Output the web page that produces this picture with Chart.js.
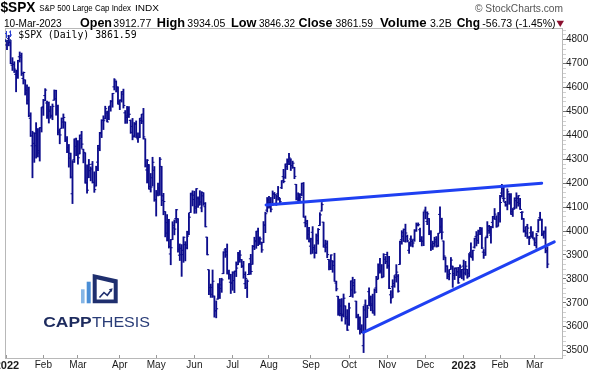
<!DOCTYPE html>
<html><head><meta charset="utf-8">
<script src="https://cdn.jsdelivr.net/npm/chart.js@4"></script>
<style>
html,body{margin:0;padding:0;background:#fff;overflow:hidden}
#wrap{position:relative;width:595px;height:376px}
#c{position:absolute;left:0;top:0}
#ov{position:absolute;left:0;top:0;pointer-events:none}
</style></head><body>
<div id="wrap">
<canvas id="c" width="595" height="376"></canvas>
<svg id="ov" width="595" height="376" xmlns="http://www.w3.org/2000/svg" font-family="Liberation Sans, Arial, sans-serif">
  <!-- header line 1 -->
  <text x="0.5" y="11.5" font-size="14" font-weight="bold" textLength="35" lengthAdjust="spacingAndGlyphs">$SPX</text>
  <text x="39.3" y="11.3" font-size="9.5" textLength="91.7" lengthAdjust="spacingAndGlyphs">S&amp;P 500 Large Cap Index</text>
  <text x="135" y="11.3" font-size="9" textLength="24" lengthAdjust="spacingAndGlyphs">INDX</text>
  <text x="475" y="11.5" font-size="10" fill="#555" textLength="88" lengthAdjust="spacingAndGlyphs">© StockCharts.com</text>
  <!-- header line 2 -->
  <text x="4" y="26.6" font-size="10" textLength="57.7" lengthAdjust="spacingAndGlyphs">10-Mar-2023</text>
  <text x="80" y="26.6" font-size="12" font-weight="bold" textLength="32" lengthAdjust="spacingAndGlyphs">Open</text>
  <text x="113.3" y="26.6" font-size="10" textLength="38" lengthAdjust="spacingAndGlyphs">3912.77</text>
  <text x="156.7" y="26.6" font-size="12" font-weight="bold" textLength="28.3" lengthAdjust="spacingAndGlyphs">High</text>
  <text x="187.3" y="26.6" font-size="10" textLength="38" lengthAdjust="spacingAndGlyphs">3934.05</text>
  <text x="231" y="26.6" font-size="12" font-weight="bold" textLength="25.5" lengthAdjust="spacingAndGlyphs">Low</text>
  <text x="259" y="26.6" font-size="10" textLength="36" lengthAdjust="spacingAndGlyphs">3846.32</text>
  <text x="298.5" y="26.6" font-size="12" font-weight="bold" textLength="34" lengthAdjust="spacingAndGlyphs">Close</text>
  <text x="335.5" y="26.6" font-size="10" textLength="37.5" lengthAdjust="spacingAndGlyphs">3861.59</text>
  <text x="380" y="26.6" font-size="12" font-weight="bold" textLength="46.7" lengthAdjust="spacingAndGlyphs">Volume</text>
  <text x="430" y="26.6" font-size="10" textLength="21.7" lengthAdjust="spacingAndGlyphs">3.2B</text>
  <text x="456.7" y="26.6" font-size="12" font-weight="bold" textLength="23.3" lengthAdjust="spacingAndGlyphs">Chg</text>
  <text x="482.3" y="26.6" font-size="10" textLength="73.3" lengthAdjust="spacingAndGlyphs">-56.73 (-1.45%)</text>
  <text x="556.5" y="25.5" font-size="8" fill="#8b1030" font-family="DejaVu Sans, sans-serif" textLength="7.5" lengthAdjust="spacingAndGlyphs">▼</text>
  <!-- legend -->
  <g stroke="#2a3fd0" stroke-width="1" fill="none">
    <path d="M6.5 31 V38 M5 33.5 H6.5 M6.5 36 H8 M10.5 30.5 V37 M9 32 H10.5 M10.5 35 H12"/>
    <path d="M5.5 42 V39.5 L8 41.5 L10.5 39.5 V42" stroke="#1a2a90"/>
  </g>
  <text x="18.3" y="37.6" font-size="10" font-family="DejaVu Sans Mono, monospace" textLength="118.3" lengthAdjust="spacingAndGlyphs">$SPX (Daily) 3861.59</text>
  <!-- logo -->
  <rect x="81" y="289.3" width="3.6" height="14" fill="#86b6e6"/>
  <rect x="86.7" y="281.7" width="4" height="21.6" fill="#4a8ed6"/>
  <polygon points="92.7,274 117.7,279.5 117.7,303.3 92.7,303.3" fill="#1f2f6e"/>
  <polygon points="96.7,279.3 113.7,283.2 113.7,299.5 96.7,299.5" fill="#fff"/>
  <polyline points="99.5,297.5 104,292.5 107.3,295.3 111.2,290" fill="none" stroke="#1f2f6e" stroke-width="1.6"/>
  <polygon points="112.6,288.2 108.8,289.2 111.8,292" fill="#1f2f6e"/>
  <text x="43.3" y="327" font-size="14.5" font-weight="bold" fill="#1d2b5e" textLength="48.4" lengthAdjust="spacingAndGlyphs">CAPP</text>
  <text x="92" y="327" font-size="14.5" fill="#2a3d78" textLength="58" lengthAdjust="spacingAndGlyphs">THESIS</text>
</svg>
</div>
<script>
// Month tick labels and their first-trading-day index
const monthLabels = ["2022","Feb","Mar","Apr","May","Jun","Jul","Aug","Sep","Oct","Nov","Dec","2023","Feb","Mar"];
const monthIdx    = [0,20,39,62,82,103,124,144,167,188,209,230,251,271,290];
const yearIdx     = [0,251];
const priceTicks  = [3500,3600,3700,3800,3900,4000,4100,4200,4300,4400,4500,4600,4700,4800];

// Daily OHLC ($SPX), Jan 3 2022 .. Mar 10 2023
const opens = [
4778.1,4804.5,4788.0,4693.4,4697.7,4655.3,4669.1,4728.6,4733.6,4638.0,4632.2,4588.0,4547.4,4471.4,4356.3,4366.6,4408.4,4380.6,4336.2,4431.8,
4519.6,4566.4,4535.4,4482.8,4505.8,4480.0,4547.0,4553.2,4506.3,4412.6,4429.3,4455.8,4456.1,4384.6,4332.7,4324.9,4155.8,4298.4,4354.2,
4363.1,4322.6,4401.3,4342.1,4327.0,4202.7,4223.1,4252.6,4279.5,4202.8,4188.8,4288.1,4345.1,4407.3,4462.4,4469.1,4493.1,4470.0,4522.7,4541.1,4602.9,4624.2,4599.0,
4540.3,4548.0,4572.5,4494.2,4474.7,4494.2,4462.6,4437.6,4394.3,4449.1,4385.6,4390.6,4472.3,4489.2,4385.8,4255.3,4278.1,4186.5,4222.6,4253.8,
4130.6,4159.8,4181.2,4270.4,4128.2,4081.3,4035.2,3990.1,3904.0,3963.9,4013.0,4052.0,4052.0,3899.0,3927.8,3919.4,3942.9,3929.6,3984.6,4077.4,4151.1,
4149.8,4095.4,4137.6,4134.7,4096.5,4147.1,4101.7,3974.4,3838.2,3763.5,3764.1,3728.2,3665.9,3715.3,3733.9,3774.7,3821.8,3920.8,3913.0,3825.1,3786.0,
3781.0,3792.6,3832.0,3858.9,3888.3,3880.9,3852.0,3779.7,3764.0,3818.0,3883.8,3860.7,3935.3,3955.5,3998.4,3965.7,3953.2,3951.4,4026.1,4087.3,
4112.4,4104.2,4108.0,4154.9,4115.9,4155.9,4133.1,4181.0,4227.4,4225.0,4269.4,4290.5,4280.4,4273.1,4266.3,4195.1,4133.1,4126.6,4153.3,4198.7,4034.6,4041.3,4000.7,
3936.7,3994.7,3930.9,3909.4,3959.9,4022.9,4083.7,4037.1,3940.7,3932.4,3881.0,3849.9,3875.2,3871.4,3782.4,3727.1,3682.7,3686.4,3651.9,3687.0,3633.5,
3609.8,3726.5,3753.3,3772.0,3706.7,3644.8,3595.9,3590.8,3520.4,3690.4,3638.7,3746.3,3703.1,3689.1,3657.1,3762.0,3799.4,3826.0,3834.7,3808.3,3881.9,
3901.8,3852.9,3733.3,3767.0,3780.7,3817.0,3810.9,3859.9,3963.7,3978.0,4006.4,3976.8,3919.3,3966.4,3956.2,3965.5,4000.3,4023.3,4005.4,3964.2,3957.2,
4087.1,4040.2,4052.0,3996.6,3933.3,3947.8,3954.2,3939.3,4069.4,4015.5,3958.4,3890.9,3853.8,3810.5,3839.5,3853.3,3815.1,3843.3,3829.6,3805.5,3829.1,
3853.3,3840.4,3839.7,3823.4,3910.8,3888.6,3932.4,3977.6,3960.6,3999.3,4002.3,3911.8,3909.0,3978.1,4001.7,3982.7,4036.1,4053.7,4049.3,4020.9,
4070.1,4158.7,4136.7,4119.6,4105.4,4153.5,4144.3,4068.9,4096.6,4126.7,4119.5,4114.8,4077.4,4052.4,4001.8,4018.6,3973.2,3992.4,3977.2,
3963.3,3938.7,3998.0,4055.2,4048.3,3987.6,3998.7,3912.77];
const highs = [
4796.6,4818.6,4797.7,4725.0,4708.0,4673.0,4714.1,4748.8,4744.1,4665.1,4632.2,4611.6,4602.1,4494.5,4417.4,4411.0,4453.2,4428.7,4432.7,4516.9,
4550.5,4595.3,4542.9,4539.7,4521.9,4531.3,4590.0,4588.9,4526.3,4426.2,4472.8,4489.6,4456.1,4394.6,4362.1,4325.8,4294.7,4385.3,4388.8,
4378.5,4401.5,4416.8,4342.1,4327.0,4276.9,4299.4,4268.3,4291.0,4247.6,4271.1,4358.0,4412.7,4465.4,4481.8,4522.0,4501.1,4520.6,4546.0,4575.7,4637.3,4627.8,4603.1,
4548.7,4583.5,4593.5,4503.9,4521.2,4520.4,4464.4,4471.0,4453.9,4460.5,4410.3,4471.0,4488.3,4512.9,4385.8,4299.0,4278.1,4240.7,4308.5,4269.7,
4169.8,4200.1,4307.7,4270.4,4157.7,4081.3,4068.8,4049.1,3964.8,4038.9,4046.5,4090.7,4052.0,3946.0,3943.4,3975.5,3955.7,3999.3,4075.1,4158.5,4168.3,
4166.5,4177.5,4142.7,4168.8,4164.9,4160.1,4119.1,3974.4,3838.2,3778.2,3837.1,3728.2,3707.7,3779.7,3801.8,3802.6,3913.7,3927.7,3945.9,3836.5,3819.0,
3829.8,3832.2,3870.9,3910.6,3918.5,3880.9,3873.4,3829.4,3796.4,3863.6,3902.4,3939.8,3974.1,3999.3,4012.4,3975.3,3953.2,4039.6,4079.0,4140.2,
4145.0,4140.5,4167.7,4161.3,4151.6,4186.6,4137.3,4211.0,4257.9,4280.5,4301.8,4325.3,4302.2,4292.5,4266.3,4195.1,4159.8,4156.6,4200.5,4203.0,4063.0,4045.0,4015.4,
3970.2,4018.4,3942.6,3987.9,4010.5,4076.8,4119.3,4037.1,3961.9,3959.1,3881.0,3900.5,3876.0,3907.1,3790.3,3727.1,3715.7,3717.5,3736.7,3687.0,3671.4,
3698.4,3791.9,3806.9,3797.9,3706.7,3652.2,3640.7,3608.3,3685.4,3712.0,3689.7,3762.8,3728.6,3736.0,3757.9,3810.7,3862.9,3886.2,3860.0,3905.4,3893.7,
3911.8,3894.4,3750.6,3796.3,3814.0,3859.4,3818.2,3958.3,4001.5,4009.0,4028.8,3983.1,3954.3,3979.9,3962.0,4005.9,4033.8,4034.0,4012.3,3976.8,4080.1,
4100.5,4080.5,4052.5,4001.5,3957.6,3974.2,3977.0,3990.7,4101.0,4053.8,3958.4,3890.9,3854.9,3838.2,3889.3,3853.3,3845.8,3846.7,3848.3,3858.2,3839.9,
3878.5,3873.2,3839.7,3906.2,3950.6,3919.8,3970.1,3997.8,4004.0,4015.4,4014.2,3922.9,3973.0,4039.3,4023.9,4019.6,4061.6,4094.2,4063.9,4077.2,
4149.0,4195.4,4182.4,4124.6,4176.5,4156.9,4156.2,4094.4,4138.9,4159.8,4148.1,4136.5,4081.5,4052.4,4017.4,4028.3,3978.3,4018.1,3997.5,
3971.7,3990.8,4048.3,4078.5,4050.0,4000.4,4017.8,3934.05];
const lows = [
4758.2,4774.3,4699.4,4671.3,4662.7,4582.2,4638.3,4706.7,4650.3,4614.8,4568.7,4530.2,4478.0,4395.3,4222.6,4287.1,4304.8,4309.5,4292.5,4414.0,
4483.5,4544.3,4470.4,4451.5,4471.5,4465.4,4547.0,4484.3,4401.4,4364.8,4429.3,4429.7,4373.8,4327.2,4267.1,4221.5,4114.7,4286.8,4315.1,
4279.5,4322.6,4345.6,4285.0,4199.9,4157.9,4223.1,4209.8,4200.5,4161.7,4187.9,4252.0,4335.7,4390.6,4424.3,4469.1,4455.8,4465.2,4501.1,4517.7,4589.7,4581.3,4530.4,
4507.6,4539.2,4514.2,4450.0,4450.3,4474.6,4408.4,4381.3,4392.7,4390.8,4370.3,4390.6,4448.8,4384.5,4267.6,4200.8,4175.0,4162.9,4188.6,4124.3,
4062.5,4147.1,4148.9,4106.0,4067.9,3975.5,3958.2,3928.8,3858.9,3963.9,3984.0,4033.9,3911.9,3876.6,3810.3,3868.9,3875.1,3925.0,3984.6,4077.4,4104.9,
4073.9,4074.4,4098.7,4109.2,4080.2,4107.2,4017.2,3900.2,3734.3,3722.3,3722.3,3639.8,3636.9,3715.3,3717.7,3743.5,3821.8,3889.7,3820.1,3799.0,3738.7,
3752.1,3742.1,3809.4,3858.9,3869.3,3847.2,3802.4,3758.9,3721.6,3817.2,3818.6,3860.7,3922.0,3927.6,3938.9,3943.5,3910.7,3951.4,3993.0,4079.2,
4096.0,4079.8,4108.0,4135.4,4107.3,4129.0,4112.1,4177.3,4201.4,4219.8,4256.9,4277.8,4253.1,4262.0,4218.7,4129.9,4124.0,4120.0,4147.6,4057.7,4017.4,3965.2,3954.5,
3903.7,3906.2,3886.8,3906.0,3944.8,4022.9,4083.7,3932.4,3912.3,3888.3,3837.1,3838.5,3827.5,3789.5,3749.5,3647.5,3644.8,3623.3,3640.6,3610.4,3584.1,
3604.9,3726.5,3722.7,3739.2,3636.7,3588.1,3568.5,3573.9,3491.6,3579.7,3638.7,3686.5,3666.5,3656.4,3647.4,3742.0,3799.4,3824.1,3803.8,3808.3,3863.2,
3843.8,3758.7,3698.2,3721.6,3764.7,3786.3,3744.2,3859.9,3944.8,3956.4,3953.2,3954.3,3906.5,3936.0,3933.3,3956.9,3998.7,4020.8,3955.8,3937.7,3938.6,
4050.9,4026.6,3984.5,3918.4,3922.7,3935.8,3933.0,3935.3,3993.0,3965.7,3879.5,3827.9,3800.0,3795.6,3839.5,3764.5,3797.0,3813.2,3780.8,3805.5,3800.3,
3794.3,3815.8,3802.4,3809.6,3890.4,3877.3,3928.5,3937.6,3947.7,3984.6,3926.6,3885.5,3897.9,3971.6,3989.8,3949.1,4013.3,4048.7,4015.6,4020.4,
4037.2,4141.9,4123.4,4104.0,4088.4,4111.7,4069.7,4060.8,4092.7,4095.0,4103.7,4089.9,4048.0,3995.2,3976.9,3969.2,3943.1,3973.6,3969.0,
3939.1,3928.2,3995.2,4044.6,3980.3,3969.8,3908.7,3846.32];
const closes = [
4796.6,4793.5,4700.6,4696.1,4677.0,4670.3,4713.1,4726.4,4659.0,4662.9,4577.1,4532.8,4482.7,4397.9,4410.1,4356.5,4349.9,4326.5,4431.9,4515.6,
4546.5,4589.4,4477.4,4500.5,4483.9,4521.5,4587.2,4504.1,4418.6,4401.7,4471.1,4475.0,4380.3,4348.9,4304.8,4225.5,4288.7,4384.7,4373.9,
4306.3,4386.5,4363.5,4328.9,4201.1,4170.7,4277.9,4259.5,4204.3,4173.1,4262.5,4357.9,4411.7,4463.1,4461.2,4511.6,4456.2,4520.2,4543.1,4575.5,4631.6,4602.5,4530.4,
4545.9,4582.6,4525.1,4481.2,4500.2,4488.3,4412.5,4397.5,4446.6,4392.6,4391.7,4462.2,4459.5,4393.7,4271.8,4296.1,4175.2,4184.0,4287.5,4131.9,
4155.4,4175.5,4300.2,4146.9,4123.3,3991.2,4001.1,3935.2,3930.1,4023.9,4008.0,4088.9,3923.7,3900.8,3901.4,3973.8,3941.5,3978.7,4057.8,4158.2,4132.2,
4101.2,4176.8,4108.5,4121.4,4160.7,4115.8,4017.8,3900.9,3749.6,3735.5,3790.0,3666.8,3674.8,3764.8,3759.9,3795.7,3911.7,3900.1,3821.6,3818.8,3785.4,
3825.3,3831.4,3845.1,3902.6,3899.4,3854.4,3818.8,3801.8,3790.4,3863.2,3830.9,3936.7,3959.9,3999.0,3961.6,3966.8,3921.1,4023.6,4072.4,4130.3,
4118.6,4091.2,4155.2,4151.9,4145.2,4140.1,4122.5,4210.2,4207.3,4280.2,4297.1,4305.2,4274.0,4283.7,4228.5,4138.0,4128.7,4140.8,4199.1,4057.7,4030.6,3986.2,3955.0,
3966.9,3924.3,3908.2,3979.9,4006.2,4067.4,4110.4,3932.7,3946.0,3901.4,3873.3,3899.9,3855.9,3789.9,3758.0,3693.2,3655.0,3647.3,3719.0,3640.5,3585.6,
3678.4,3790.9,3783.3,3744.5,3639.7,3612.4,3588.8,3577.0,3669.9,3583.1,3678.0,3720.0,3695.2,3665.8,3752.8,3797.3,3859.1,3830.6,3807.3,3901.1,3872.0,
3856.1,3759.7,3719.9,3770.6,3806.8,3828.1,3748.6,3956.4,3992.9,3957.3,3991.7,3958.8,3946.6,3965.3,3949.9,4003.6,4027.3,4026.1,3963.9,3957.6,4080.1,
4076.6,4071.7,3998.8,3941.3,3933.9,3963.5,3934.4,3990.6,4019.7,3995.3,3895.8,3852.4,3817.7,3821.6,3878.4,3822.4,3844.8,3829.3,3783.2,3849.3,3839.5,
3824.1,3853.0,3808.1,3895.1,3892.1,3919.3,3969.6,3983.2,3999.1,3991.0,3928.9,3898.9,3972.6,4019.8,4017.0,4016.2,4060.4,4070.6,4017.8,4076.6,
4119.2,4179.8,4136.5,4111.1,4164.0,4117.9,4081.5,4090.5,4137.3,4136.1,4147.6,4090.4,4079.1,3997.3,3991.1,4012.3,3970.0,3982.2,3970.2,
3951.4,3981.4,4045.6,4048.4,3986.4,3992.0,3918.3,3861.59];

// Hand-drawn trendlines (trading-day index, price)
const upperTrend = [{x:142.4, y:4109}, {x:293.9, y:4200}];
const lowerTrend = [{x:195.9, y:3576}, {x:300.8, y:3955}];

const NAVY = '#0d0d8c';
const TREND = '#1f40f2';
const FONT = 'Liberation Sans, Arial, sans-serif';

const hiLo = highs.map((h, i) => ({x: i, y: [lows[i], h]}));
const openPts = opens.map((o, i) => ({x: i - 0.5, y: o}));
const closePts = closes.map((c, i) => ({x: i + 0.5, y: c}));

const framePlugin = {
  id: 'frame',
  beforeDatasetsDraw(chart) {
    const {ctx, chartArea: a} = chart;
    ctx.save();
    ctx.strokeStyle = '#b8b8b8';
    ctx.lineWidth = 1;
    ctx.strokeRect(Math.round(a.left) + 0.5, Math.round(a.top) + 0.5,
                   Math.round(a.right - a.left) - 1, Math.round(a.bottom - a.top));
    ctx.restore();
  }
};

new Chart(document.getElementById('c'), {
  type: 'bar',
  data: {
    datasets: [
      {type: 'line', data: upperTrend, borderColor: TREND, borderWidth: 3, pointRadius: 0, order: 0, borderCapStyle: 'round'},
      {type: 'line', data: lowerTrend, borderColor: TREND, borderWidth: 3, pointRadius: 0, order: 0, borderCapStyle: 'round'},
      {type: 'scatter', data: openPts, pointStyle: 'line', pointRadius: 1, pointBorderWidth: 1, pointBorderColor: NAVY, order: 1},
      {type: 'scatter', data: closePts, pointStyle: 'line', pointRadius: 1, pointBorderWidth: 1, pointBorderColor: NAVY, order: 1},
      {type: 'bar', data: hiLo, backgroundColor: NAVY, barThickness: 1.2, order: 2}
    ]
  },
  options: {
    responsive: false,
    animation: false,
    devicePixelRatio: 1,
    layout: {padding: {left: 3, top: 28, right: 0, bottom: 0}},
    plugins: {legend: {display: false}, tooltip: {enabled: false}},
    scales: {
      x: {
        type: 'linear', min: -1.095, max: 305.6, offset: false,
        afterBuildTicks: s => { s.ticks = monthIdx.map(v => ({value: v})); },
        afterFit: s => { s.height = 18; s.paddingLeft = 0; s.paddingRight = 0; },
        border: {display: false},
        grid: {drawOnChartArea: false, offset: false, tickLength: -3, color: '#999'},
        ticks: {
          autoSkip: false, maxRotation: 0, minRotation: 0, padding: 4, color: '#1a1a1a',
          callback: v => { const k = monthIdx.indexOf(v); return k >= 0 ? monthLabels[k] : ''; },
          font: c => ({family: FONT, size: (c.tick && yearIdx.includes(c.tick.value)) ? 11 : 10,
                       weight: (c.tick && yearIdx.includes(c.tick.value)) ? 'bold' : 'normal'})
        }
      },
      y: {
        position: 'right', min: 3469, max: 4849,
        afterBuildTicks: s => {
          const t = [];
          for (let v = 3480; v <= 4840; v += 20) t.push({value: v});
          s.ticks = t;
        },
        afterFit: s => { s.width = 32; s.paddingTop = 0; s.paddingBottom = 0; },
        border: {display: false},
        grid: {drawOnChartArea: false, tickLength: 3,
               color: c => (c.tick && priceTicks.includes(c.tick.value)) ? '#777' : '#d0d0d0'},
        ticks: {
          autoSkip: false, padding: 0, color: '#1a1a1a',
          font: {family: FONT, size: 10},
          callback: v => priceTicks.includes(v) ? String(v) : ''
        }
      }
    }
  },
  plugins: [framePlugin]
});
</script>
</body></html>
